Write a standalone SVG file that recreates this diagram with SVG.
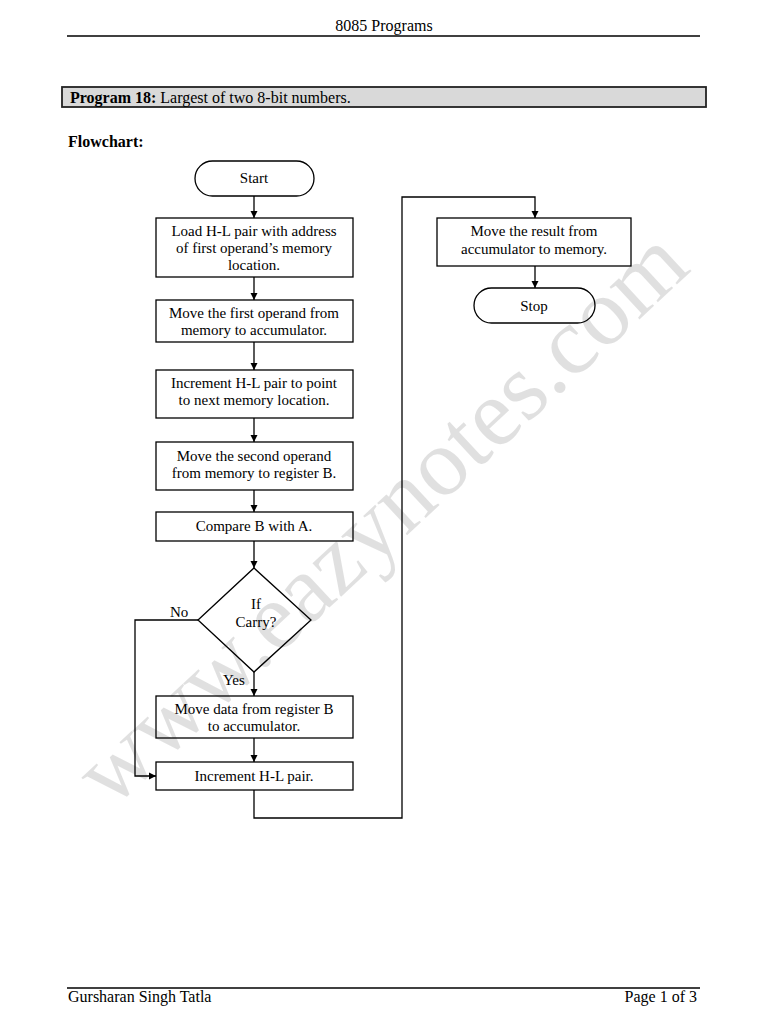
<svg xmlns="http://www.w3.org/2000/svg" width="768" height="1024" viewBox="0 0 768 1024">
<style>
text{font-family:"Liberation Serif","Times New Roman",serif;font-size:15px;fill:#000}
.c{text-anchor:middle}
.b{font-weight:bold}
.pg{font-size:16px}
.shape{fill:none;stroke:#000;stroke-width:1.3}
.ln{fill:none;stroke:#000;stroke-width:1.3}
.wm{font-size:96px;fill:#000;fill-opacity:0.12}
</style>
<defs>
<marker id="ah" markerWidth="8" markerHeight="8" refX="7" refY="4" orient="auto" markerUnits="userSpaceOnUse">
<path d="M0,0.5 L7,4 L0,7.5 Z" fill="#000"/>
</marker>
</defs>
<rect width="768" height="1024" fill="#fff"/>
<text class="wm" text-anchor="middle" transform="translate(402,540) rotate(-42.9)">www.eazynotes.com</text>
<g id="header">
<text class="c pg" x="384" y="31">8085 Programs</text>
<line x1="67" y1="36" x2="700" y2="36" stroke="#000" stroke-width="1.5"/>
</g>
<g id="title">
<rect x="62" y="87" width="644" height="20" fill="#d9d9d9" stroke="#222" stroke-width="1.8"/>
<text class="pg" x="70" y="103"><tspan font-weight="bold">Program 18:</tspan> Largest of two 8-bit numbers.</text>
<text class="b pg" x="68" y="147">Flowchart:</text>
</g>
<g id="connectors">
<line class="ln" x1="254" y1="196" x2="254" y2="218" marker-end="url(#ah)"/>
<line class="ln" x1="254" y1="277" x2="254" y2="300" marker-end="url(#ah)"/>
<line class="ln" x1="254" y1="342" x2="254" y2="370" marker-end="url(#ah)"/>
<line class="ln" x1="254" y1="418" x2="254" y2="442" marker-end="url(#ah)"/>
<line class="ln" x1="254" y1="490" x2="254" y2="512" marker-end="url(#ah)"/>
<line class="ln" x1="254" y1="541" x2="254" y2="568" marker-end="url(#ah)"/>
<line class="ln" x1="254" y1="672" x2="254" y2="696" marker-end="url(#ah)"/>
<line class="ln" x1="254" y1="738" x2="254" y2="762" marker-end="url(#ah)"/>
<polyline class="ln" points="198,620 135,620 135,776 156,776" marker-end="url(#ah)"/>
<polyline class="ln" points="254,790 254,818 402,818 402,197 535,197 535,218" marker-end="url(#ah)"/>
<line class="ln" x1="535" y1="266" x2="535" y2="288" marker-end="url(#ah)"/>
<text x="170" y="617">No</text>
<text x="223" y="685">Yes</text>
</g>
<g id="start">
<rect class="shape" x="195" y="161" width="119" height="35" rx="17.5"/>
<text class="c" x="254" y="183">Start</text>
</g>
<g id="load">
<rect class="shape" x="156" y="218" width="197" height="59"/>
<text class="c" x="254" y="236">Load H-L pair with address</text>
<text class="c" x="254" y="253">of first operand’s memory</text>
<text class="c" x="254" y="270">location.</text>
</g>
<g id="move1">
<rect class="shape" x="156" y="300" width="197" height="42"/>
<text class="c" x="254" y="318">Move the first operand from</text>
<text class="c" x="254" y="335">memory to accumulator.</text>
</g>
<g id="inc1">
<rect class="shape" x="156" y="370" width="197" height="48"/>
<text class="c" x="254" y="388">Increment H-L pair to point</text>
<text class="c" x="254" y="405">to next memory location.</text>
</g>
<g id="move2">
<rect class="shape" x="156" y="442" width="197" height="48"/>
<text class="c" x="254" y="461">Move the second operand</text>
<text class="c" x="254" y="478">from memory to register B.</text>
</g>
<g id="compare">
<rect class="shape" x="156" y="512" width="197" height="29"/>
<text class="c" x="254" y="531">Compare B with A.</text>
</g>
<g id="decision">
<polygon class="shape" points="254,568 311,620 254,672 198,620"/>
<text class="c" x="256" y="609">If</text>
<text class="c" x="256" y="627">Carry?</text>
</g>
<g id="move3">
<rect class="shape" x="156" y="696" width="197" height="42"/>
<text class="c" x="254" y="714">Move data from register B</text>
<text class="c" x="254" y="731">to accumulator.</text>
</g>
<g id="inc2">
<rect class="shape" x="156" y="762" width="197" height="28"/>
<text class="c" x="254" y="781">Increment H-L pair.</text>
</g>
<g id="store">
<rect class="shape" x="437" y="218" width="194" height="48"/>
<text class="c" x="534" y="236">Move the result from</text>
<text class="c" x="534" y="254">accumulator to memory.</text>
</g>
<g id="stop">
<rect class="shape" x="474" y="288" width="121" height="35" rx="17.5"/>
<text class="c" x="534" y="311">Stop</text>
</g>
<g id="footer">
<line x1="67" y1="988" x2="700" y2="988" stroke="#000" stroke-width="1.5"/>
<text class="pg" x="68" y="1002">Gursharan Singh Tatla</text>
<text class="pg" x="697" y="1002" text-anchor="end">Page 1 of 3</text>
</g>
</svg>
